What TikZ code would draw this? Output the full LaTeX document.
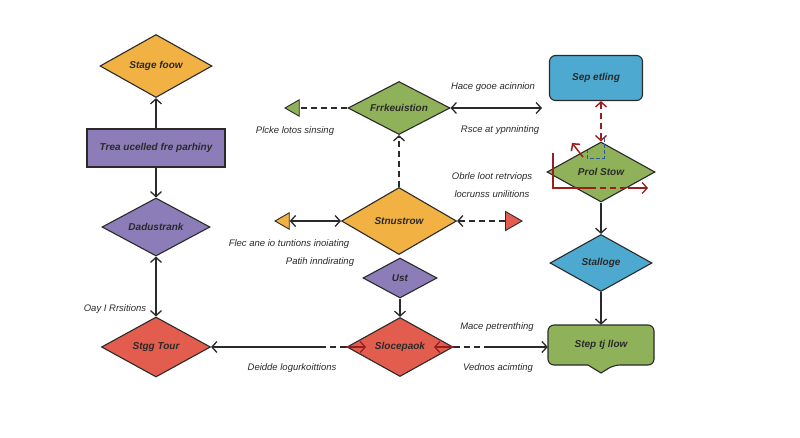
\documentclass[tikz,border=0pt]{standalone}
\usepackage{fontspec}
\setmainfont{Liberation Sans}
\usetikzlibrary{shapes.geometric,arrows.meta}
\definecolor{cOrange}{HTML}{F2B143}
\definecolor{cPurple}{HTML}{8C7DB9}
\definecolor{cRed}{HTML}{E35D4E}
\definecolor{cGreen}{HTML}{8FB15A}
\definecolor{cBlue}{HTML}{4DA9CF}
\definecolor{cDark}{HTML}{2A2A2A}
\definecolor{cDRed}{HTML}{9B1E1E}
\definecolor{cDBlue}{HTML}{2E5A9A}
\tikzset{
  dia/.style={diamond, draw=cDark, line width=1.1pt, inner sep=0pt, shape aspect=2,
    font=\bfseries\itshape\fontsize{10}{12}\selectfont, text=cDark},
  boxnode/.style={draw=cDark, line width=1.1pt, inner sep=0pt,
    font=\bfseries\itshape\fontsize{10}{12}\selectfont, text=cDark},
  lbl/.style={font=\itshape\fontsize{9.5}{11}\selectfont, text=cDark, inner sep=0pt},
  tri/.style={regular polygon, regular polygon sides=3, draw=cDark, line width=0.9pt, inner sep=0pt},
  con/.style={draw=cDark, line width=1.3pt},
  tip/.style={-{Straight Barb[length=5pt,width=11pt]}},
  tips/.style={{Straight Barb[length=5pt,width=11pt]}-{Straight Barb[length=5pt,width=11pt]}},
  dsh/.style={dash pattern=on 6pt off 4pt},
}
\begin{document}
\begin{tikzpicture}[x=1pt,y=-1pt]
\useasboundingbox[fill=white] (0,0) rectangle (800,437);

% diamonds
\node[dia, fill=cOrange, minimum width=112pt, minimum height=63pt] (sf) at (156,66) {Stage foow};
\node[boxnode, fill=cPurple, minimum width=138pt, minimum height=38pt] (trea) at (156,148) {Trea ucelled fre parhiny};
\node[dia, fill=cPurple, minimum width=108pt, minimum height=58pt] (dad) at (156,227) {Dadustrank};
\node[dia, fill=cRed, minimum width=109pt, minimum height=60pt] (stg) at (156,347) {Stgg Tour};
\node[dia, fill=cGreen, minimum width=102pt, minimum height=53pt] (frk) at (399,108) {Frrkeuistion};
\node[dia, fill=cOrange, minimum width=115pt, minimum height=67pt] (stm) at (399,221) {Stnustrow};
\node[dia, fill=cPurple, minimum width=74pt, minimum height=40pt] (ust) at (400,278) {Ust};
\node[dia, fill=cRed, minimum width=106pt, minimum height=59pt] (slo) at (400,347) {Slocepaok};
\node[boxnode, fill=cBlue, rounded corners=6pt, minimum width=93pt, minimum height=45pt] (sep) at (596,78) {Sep etling};
\node[dia, fill=cGreen, minimum width=108pt, minimum height=60pt] (prol) at (601,172) {Prol Stow};
\node[dia, fill=cBlue, minimum width=102pt, minimum height=57pt] (stal) at (601,263) {Stalloge};

% speech bubble
\draw[draw=cDark, line width=1.1pt, fill=cGreen, rounded corners=6pt]
  (548,325) -- (654,325) -- (654,365) -- (614,365) [sharp corners] -- (601,373) -- (588,365) [rounded corners=6pt] -- (548,365) -- cycle;
\node[inner sep=0pt, minimum width=106pt, minimum height=40pt, font=\bfseries\itshape\fontsize{10}{12}\selectfont, text=cDark] (step) at (601,345) {Step tj llow};

% triangles
\node[tri, fill=cOrange, minimum size=19pt, shape border rotate=90] (ytri) at (284.5,221) {};
\node[tri, fill=cRed, minimum size=22pt, shape border rotate=-90] (rtri) at (511,221) {};
\node[tri, fill=cGreen, minimum size=19pt, shape border rotate=90] (gtri) at (294.5,108) {};

% coordinates
\coordinate (slL) at (322,347);
\coordinate (slR) at (485,347);
\coordinate (frR) at (542,108);
\coordinate (sloLt) at (366,347);
\coordinate (sloRt) at (434,347);

% connectors left column
\draw[con, tip] (trea) -- (sf);
\draw[con, tip] (trea) -- (dad);
\draw[con, tips] (dad) -- (stg);

% bottom row
\draw[con, dsh] (slo.west) -- (slL);
\draw[con, tip] (slL) -- (stg.east);
\draw[con, dsh] (slo.east) -- (slR);
\draw[con, tip] (slR) -- (slR -| step.west);
\draw[draw=cDRed, line width=1.3pt, tip] (slo.west) -- (sloLt);
\draw[draw=cDRed, line width=1.3pt, tip] (slo.east) -- (sloRt);

% middle column
\draw[con, tip] (ust) -- (slo);
\draw[con, dsh, tip] (stm) -- (frk);
\draw[con, tips] (ytri) -- (stm);
\draw[con, dsh, tip] (rtri) -- (stm);
\draw[con, dsh] (frk) -- (gtri);
\draw[con, tips] (frk.east) -- (frR);

% right column
\draw[draw=cDRed, line width=1.4pt, dsh, tips] (sep.south -| prol.north) -- (prol.north);
\draw[con, tip] (prol) -- (stal);
\draw[con, tip] (stal.south) -- (step.north);

% extra marks around Prol Stow
\coordinate (b1) at (604,138);
\coordinate (b2) at (604,158);
\coordinate (b3) at (587,158);
\coordinate (b4) at (587,150);
\draw[draw=cDBlue, line width=0.8pt, dash pattern=on 4pt off 2pt] (b1) -- (b2) -- (b3) -- (b4);
\coordinate (r1) at (583,157);
\coordinate (r2) at (572,143);
\draw[draw=cDRed, line width=1.5pt, tip] (r1) -- (r2);
\coordinate (l1) at (553,153);
\coordinate (l2) at (553,188);
\coordinate (l3) at (590,188);
\coordinate (l4) at (628,188);
\coordinate (l5) at (648,188);
\draw[draw=cDRed, line width=1.3pt] (l1) -- (l2) -- (l3);
\draw[draw=cDRed, line width=1.3pt, dsh] (l3) -- (l4);
\draw[draw=cDRed, line width=1.3pt, tip] (l4) -- (l5);

% labels
\node[lbl] (t1) at (115,309) {Oay I Rrsitions};
\node[lbl] (t2) at (292,368) {Deidde logurkoittions};
\node[lbl] (t3) at (497,327) {Maсe petrenthing};
\node[lbl] (t4) at (498,368) {Vednos acimting};
\node[lbl] (t5) at (289,244) {Flec ane io tuntions inoiating};
\node[lbl] (t6) at (320,262) {Patih inndirating};
\node[lbl] (t7) at (492,177) {Obrle loot retrviops};
\node[lbl] (t8) at (492,194) {locrunss unilitions};
\node[lbl] (t9) at (295,131) {Plcke lotos sinsing};
\node[lbl] (t10) at (493,87) {Hace gooe acinnion};
\node[lbl] (t11) at (500,130) {Rsce at ypnninting};
\end{tikzpicture}
\end{document}
